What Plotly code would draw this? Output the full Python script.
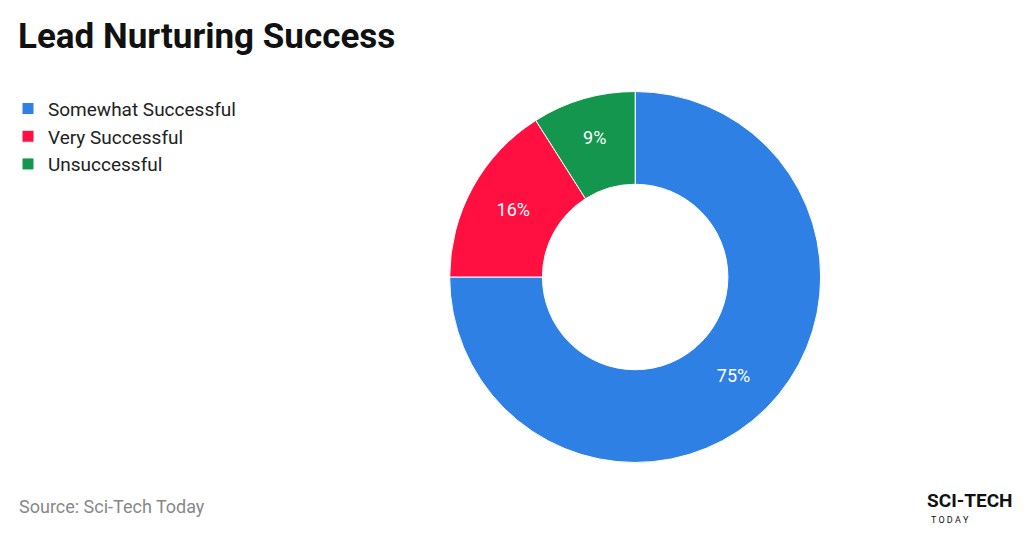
import plotly.graph_objects as go

labels = ["Somewhat Successful", "Very Successful", "Unsuccessful"]
values = [75, 16, 9]
colors = ["#2F80E4", "#FF1040", "#14964F"]

fig = go.Figure(go.Pie(
    labels=labels, values=values, hole=0.5, sort=False, direction="clockwise", rotation=0,
    marker=dict(colors=colors, line=dict(color="white", width=1)),
    textinfo="percent", texttemplate="%{percent:.0%}", textposition="inside",
    insidetextorientation="horizontal",
    textfont=dict(color="white", size=18, family="Roboto"),
    domain=dict(x=[0.4365, 0.8056], y=[0.1199, 0.8395]),
))
fig.update_layout(
    width=1008, height=517, margin=dict(l=0, r=0, t=0, b=0),
    paper_bgcolor="white", plot_bgcolor="white",
    font=dict(family="Roboto", color="#333"),
    legend=dict(x=-0.003, y=0.842, xanchor="left", yanchor="top",
                font=dict(size=19, color="#222"), tracegroupgap=0),
    annotations=[
        dict(text="<b>Lead Nurturing Success</b>", x=0.005, y=0.944, xref="paper", yref="paper",
             showarrow=False, font=dict(size=35, color="#111"), xanchor="left", yanchor="middle"),
        dict(text="Source: Sci-Tech Today", x=0.006, y=0.035, xref="paper", yref="paper",
             showarrow=False, font=dict(size=18, color="#888"), xanchor="left", yanchor="middle"),
        dict(text="<b>SCI-TECH</b>", x=0.998, y=0.048, xref="paper", yref="paper",
             showarrow=False, font=dict(size=19, color="#111"), xanchor="right", yanchor="middle"),
        dict(text="T O D A Y", x=0.955, y=-0.004, xref="paper", yref="paper",
             showarrow=False, font=dict(size=9, color="#111"), xanchor="right", yanchor="bottom"),
    ],
)
fig.write_html("out.html")
